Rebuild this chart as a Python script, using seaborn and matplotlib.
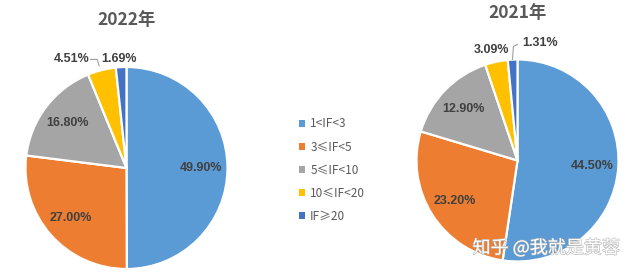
import matplotlib
matplotlib.use("Agg")
import matplotlib.pyplot as plt
import matplotlib.patheffects as pe
from matplotlib.patches import Patch
import numpy as np
import seaborn as sns

# ---- data ----
categories = ["1<IF<3", "3≤IF<5", "5≤IF<10", "10≤IF<20", "IF≥20"]
values_2022 = [49.90, 27.00, 16.80, 4.51, 1.69]
values_2021 = [44.50, 23.20, 12.90, 3.09, 1.31]
titles = ["2022年", "2021年"]
watermark = "知乎 @我就是黄蓉"

sns.set_theme(style="white")
plt.rcParams["font.family"] = ["Liberation Sans", "DejaVu Sans"]
cjk = ["Noto Sans CJK SC", "DejaVu Sans"]

palette = sns.color_palette(["#5B9BD5", "#ED7D31", "#A5A5A5", "#FFC000", "#4472C4"])

fig = plt.figure(figsize=(6.4, 2.77), dpi=100)
W, H = 640, 277


def add_pie_axes(cx, cy, r):
    return fig.add_axes([(cx - r) / W, (H - cy - r) / H, 2 * r / W, 2 * r / H])


lab_color = "#404040"


def draw_pie(ax, vals, title, outside, title_y):
    wedges, _ = ax.pie(vals, colors=palette, startangle=90, counterclock=False,
                       wedgeprops=dict(edgecolor="white", linewidth=1.6))
    ax.set_xlim(-1, 1)
    ax.set_ylim(-1, 1)
    ax.set_aspect("equal")
    ax.axis("off")
    for i, (w, v) in enumerate(zip(wedges, vals)):
        txt = f"{v:.2f}%"
        ang = np.deg2rad((w.theta1 + w.theta2) / 2)
        if i in outside:
            (tx, ty), line = outside[i]
            ax.text(tx, ty, txt, ha="center", va="center", fontsize=9,
                    fontweight="bold", color=lab_color, clip_on=False)
            if line is not None:
                ax.plot(line[0], line[1], color="#A0A0A0", lw=0.8, clip_on=False)
        else:
            d = 0.74
            ax.text(d * np.cos(ang), d * np.sin(ang), txt, ha="center", va="center",
                    fontsize=9, fontweight="bold", color=lab_color)
    ax.text(0, title_y, title, ha="center", va="center", fontsize=12.5,
            fontweight="bold", color="#595959", family=cjk, clip_on=False)
    return wedges


ax1 = add_pie_axes(126.5, 168, 101)
draw_pie(ax1, values_2022, titles[0],
         {3: ((-0.545, 1.075), ([-0.36, -0.29, -0.27], [1.075, 1.075, 1.01])),
          4: ((-0.07, 1.08), None)},
         title_y=1.47)

ax2 = add_pie_axes(517.5, 160.5, 101)
draw_pie(ax2, values_2021, titles[1],
         {3: ((-0.257, 1.09), None),
          4: ((0.22, 1.16), ([-0.05, -0.04, 0.0], [1.0, 1.13, 1.15]))},
         title_y=1.46)

handles = [Patch(facecolor=c, edgecolor="none") for c in palette]
leg = fig.legend(handles, categories, loc="center left",
                 bbox_to_anchor=(299 / W, 1 - 170 / H), frameon=False,
                 handlelength=0.55, handleheight=0.55, handletextpad=0.4,
                 labelspacing=0.85, borderpad=0, borderaxespad=0,
                 prop={"family": cjk, "size": 8.5})
for t in leg.get_texts():
    t.set_color("#595959")

fig.text(546 / W, 1 - 248 / H, watermark, ha="center", va="center",
         fontsize=13, color="white", family=cjk,
         path_effects=[pe.withStroke(linewidth=0.8, foreground="#b5b5b5")])

fig.savefig("out.png", dpi=100)
